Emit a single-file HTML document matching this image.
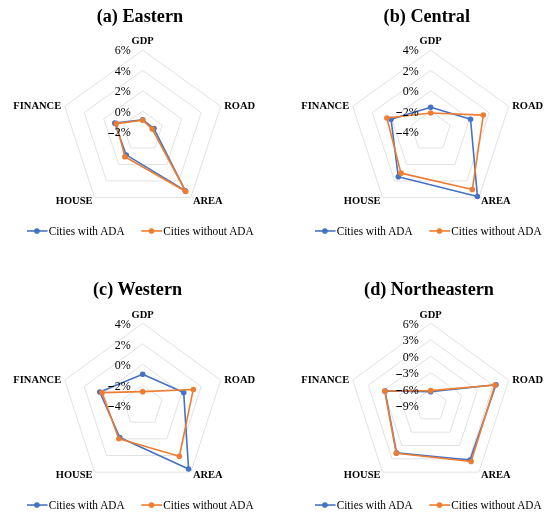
<!DOCTYPE html>
<html><head><meta charset="utf-8"><title>Radar charts</title>
<style>
html,body{margin:0;padding:0;background:#fff;}
svg{display:block;}
text{font-family:"Liberation Serif","Times New Roman",serif;fill:#000;}
.t{font-size:18.2px;font-weight:bold;text-anchor:middle;}
.ax{font-size:11px;font-weight:bold;}
.rl{font-size:13.4px;text-anchor:end;}
.lg{font-size:11.9px;}
</style></head><body>
<svg width="550" height="520" viewBox="0 0 550 520">
<rect width="550" height="520" fill="#fff"/>
<g>
<text class="t" x="139.9" y="22">(a) Eastern</text>
<polygon points="142.70,111.14 162.20,125.21 154.75,147.97 130.65,147.97 123.20,125.21" fill="none" stroke="#e2e2e2" stroke-width="1"/>
<polygon points="142.70,90.79 181.69,118.92 166.80,164.44 118.60,164.44 103.71,118.92" fill="none" stroke="#e2e2e2" stroke-width="1"/>
<polygon points="142.70,70.43 201.19,112.63 178.85,180.91 106.55,180.91 84.21,112.63" fill="none" stroke="#e2e2e2" stroke-width="1"/>
<polygon points="142.70,50.07 220.69,106.34 190.90,197.38 94.50,197.38 64.71,106.34" fill="none" stroke="#e2e2e2" stroke-width="1"/>
<text class="ax" text-anchor="middle" transform="translate(142.7,43.9) scale(0.955,1)">GDP</text>
<text class="ax" text-anchor="start" transform="translate(224.2,109.0) scale(0.955,1)">ROAD</text>
<text class="ax" text-anchor="start" transform="translate(192.9,203.8) scale(0.955,1)">AREA</text>
<text class="ax" text-anchor="end" transform="translate(92.5,203.8) scale(0.955,1)">HOUSE</text>
<text class="ax" text-anchor="end" transform="translate(61.2,109.0) scale(0.955,1)">FINANCE</text>
<polygon points="142.70,119.70 153.92,128.55 185.20,190.69 126.18,154.93 114.83,123.15" fill="none" stroke="#4472c4" stroke-width="1.6" stroke-linejoin="round"/>
<circle cx="142.70" cy="119.70" r="2.8" fill="#4472c4"/>
<circle cx="153.92" cy="128.55" r="2.8" fill="#4472c4"/>
<circle cx="185.20" cy="190.69" r="2.8" fill="#4472c4"/>
<circle cx="126.18" cy="154.93" r="2.8" fill="#4472c4"/>
<circle cx="114.83" cy="123.15" r="2.8" fill="#4472c4"/>
<polygon points="142.70,120.20 152.21,129.11 185.78,191.50 124.89,156.71 116.36,123.64" fill="none" stroke="#ed7d31" stroke-width="1.6" stroke-linejoin="round"/>
<circle cx="142.70" cy="120.20" r="2.8" fill="#ed7d31"/>
<circle cx="152.21" cy="129.11" r="2.8" fill="#ed7d31"/>
<circle cx="185.78" cy="191.50" r="2.8" fill="#ed7d31"/>
<circle cx="124.89" cy="156.71" r="2.8" fill="#ed7d31"/>
<circle cx="116.36" cy="123.64" r="2.8" fill="#ed7d31"/>
<text class="rl" transform="translate(130.9,54.2) scale(0.9,1)">6%</text>
<text class="rl" transform="translate(130.9,74.7) scale(0.9,1)">4%</text>
<text class="rl" transform="translate(130.9,95.2) scale(0.9,1)">2%</text>
<text class="rl" transform="translate(130.9,115.7) scale(0.9,1)">0%</text>
<text x="113.6" y="135.6" style="font-size:9.5px;font-weight:bold;text-anchor:end" stroke="#000" stroke-width="0.5">–</text>
<text class="rl" transform="translate(130.9,136.2) scale(0.9,1)">2%</text>
<line x1="26.999999999999986" y1="230.95" x2="47.499999999999986" y2="230.95" stroke="#4472c4" stroke-width="1.6"/><circle cx="36.899999999999984" cy="230.95" r="2.8" fill="#4472c4"/>
<text class="lg" text-anchor="start" transform="translate(48.7,234.8) scale(0.95,1)">Cities with ADA</text>
<line x1="141.25" y1="230.95" x2="162.1" y2="230.95" stroke="#ed7d31" stroke-width="1.6"/><circle cx="151.45" cy="230.95" r="2.8" fill="#ed7d31"/>
<text class="lg" text-anchor="start" transform="translate(163.3,234.8) scale(0.95,1)">Cities without ADA</text>
</g>
<g>
<text class="t" x="426.8" y="22">(b) Central</text>
<polygon points="430.70,111.14 450.20,125.21 442.75,147.97 418.65,147.97 411.20,125.21" fill="none" stroke="#e2e2e2" stroke-width="1"/>
<polygon points="430.70,90.79 469.69,118.92 454.80,164.44 406.60,164.44 391.71,118.92" fill="none" stroke="#e2e2e2" stroke-width="1"/>
<polygon points="430.70,70.43 489.19,112.63 466.85,180.91 394.55,180.91 372.21,112.63" fill="none" stroke="#e2e2e2" stroke-width="1"/>
<polygon points="430.70,50.07 508.69,106.34 478.90,197.38 382.50,197.38 352.71,106.34" fill="none" stroke="#e2e2e2" stroke-width="1"/>
<text class="ax" text-anchor="middle" transform="translate(430.7,43.9) scale(0.955,1)">GDP</text>
<text class="ax" text-anchor="start" transform="translate(512.2,109.0) scale(0.955,1)">ROAD</text>
<text class="ax" text-anchor="start" transform="translate(480.9,203.8) scale(0.955,1)">AREA</text>
<text class="ax" text-anchor="end" transform="translate(380.5,203.8) scale(0.955,1)">HOUSE</text>
<text class="ax" text-anchor="end" transform="translate(349.2,109.0) scale(0.955,1)">FINANCE</text>
<polygon points="430.70,107.30 470.55,119.25 477.43,196.52 398.31,176.78 391.04,119.31" fill="none" stroke="#4472c4" stroke-width="1.6" stroke-linejoin="round"/>
<circle cx="430.70" cy="107.30" r="2.8" fill="#4472c4"/>
<circle cx="470.55" cy="119.25" r="2.8" fill="#4472c4"/>
<circle cx="477.43" cy="196.52" r="2.8" fill="#4472c4"/>
<circle cx="398.31" cy="176.78" r="2.8" fill="#4472c4"/>
<circle cx="391.04" cy="119.31" r="2.8" fill="#4472c4"/>
<polygon points="430.70,112.95 483.29,115.11 472.32,189.48 400.96,173.14 386.86,117.95" fill="none" stroke="#ed7d31" stroke-width="1.6" stroke-linejoin="round"/>
<circle cx="430.70" cy="112.95" r="2.8" fill="#ed7d31"/>
<circle cx="483.29" cy="115.11" r="2.8" fill="#ed7d31"/>
<circle cx="472.32" cy="189.48" r="2.8" fill="#ed7d31"/>
<circle cx="400.96" cy="173.14" r="2.8" fill="#ed7d31"/>
<circle cx="386.86" cy="117.95" r="2.8" fill="#ed7d31"/>
<text class="rl" transform="translate(418.9,54.2) scale(0.9,1)">4%</text>
<text class="rl" transform="translate(418.9,74.7) scale(0.9,1)">2%</text>
<text class="rl" transform="translate(418.9,95.2) scale(0.9,1)">0%</text>
<text x="401.6" y="115.1" style="font-size:9.5px;font-weight:bold;text-anchor:end" stroke="#000" stroke-width="0.5">–</text>
<text class="rl" transform="translate(418.9,115.7) scale(0.9,1)">2%</text>
<text x="401.6" y="135.6" style="font-size:9.5px;font-weight:bold;text-anchor:end" stroke="#000" stroke-width="0.5">–</text>
<text class="rl" transform="translate(418.9,136.2) scale(0.9,1)">4%</text>
<line x1="315.0" y1="230.95" x2="335.5" y2="230.95" stroke="#4472c4" stroke-width="1.6"/><circle cx="324.9" cy="230.95" r="2.8" fill="#4472c4"/>
<text class="lg" text-anchor="start" transform="translate(336.7,234.8) scale(0.95,1)">Cities with ADA</text>
<line x1="429.25" y1="230.95" x2="450.1" y2="230.95" stroke="#ed7d31" stroke-width="1.6"/><circle cx="439.45" cy="230.95" r="2.8" fill="#ed7d31"/>
<text class="lg" text-anchor="start" transform="translate(451.3,234.8) scale(0.95,1)">Cities without ADA</text>
</g>
<g>
<text class="t" x="137.6" y="294.9">(c) Western</text>
<polygon points="142.70,384.97 162.20,399.19 154.75,422.20 130.65,422.20 123.20,399.19" fill="none" stroke="#e2e2e2" stroke-width="1"/>
<polygon points="142.70,364.39 181.69,392.83 166.80,438.85 118.60,438.85 103.71,392.83" fill="none" stroke="#e2e2e2" stroke-width="1"/>
<polygon points="142.70,343.80 201.19,386.47 178.85,455.50 106.55,455.50 84.21,386.47" fill="none" stroke="#e2e2e2" stroke-width="1"/>
<polygon points="142.70,323.22 220.69,380.11 190.90,472.15 94.50,472.15 64.71,380.11" fill="none" stroke="#e2e2e2" stroke-width="1"/>
<text class="ax" text-anchor="middle" transform="translate(142.7,317.6) scale(0.955,1)">GDP</text>
<text class="ax" text-anchor="start" transform="translate(224.2,382.7) scale(0.955,1)">ROAD</text>
<text class="ax" text-anchor="start" transform="translate(192.9,478.3) scale(0.955,1)">AREA</text>
<text class="ax" text-anchor="end" transform="translate(92.5,478.3) scale(0.955,1)">HOUSE</text>
<text class="ax" text-anchor="end" transform="translate(61.2,382.7) scale(0.955,1)">FINANCE</text>
<polygon points="142.70,374.20 183.69,392.58 188.55,469.00 119.78,437.45 99.81,391.96" fill="none" stroke="#4472c4" stroke-width="1.6" stroke-linejoin="round"/>
<circle cx="142.70" cy="374.20" r="2.8" fill="#4472c4"/>
<circle cx="183.69" cy="392.58" r="2.8" fill="#4472c4"/>
<circle cx="188.55" cy="469.00" r="2.8" fill="#4472c4"/>
<circle cx="119.78" cy="437.45" r="2.8" fill="#4472c4"/>
<circle cx="99.81" cy="391.96" r="2.8" fill="#4472c4"/>
<polygon points="142.70,391.65 193.30,389.46 179.32,456.30 118.84,438.75 101.90,392.64" fill="none" stroke="#ed7d31" stroke-width="1.6" stroke-linejoin="round"/>
<circle cx="142.70" cy="391.65" r="2.8" fill="#ed7d31"/>
<circle cx="193.30" cy="389.46" r="2.8" fill="#ed7d31"/>
<circle cx="179.32" cy="456.30" r="2.8" fill="#ed7d31"/>
<circle cx="118.84" cy="438.75" r="2.8" fill="#ed7d31"/>
<circle cx="101.90" cy="392.64" r="2.8" fill="#ed7d31"/>
<text class="rl" transform="translate(130.9,328.0) scale(0.9,1)">4%</text>
<text class="rl" transform="translate(130.9,348.5) scale(0.9,1)">2%</text>
<text class="rl" transform="translate(130.9,369.0) scale(0.9,1)">0%</text>
<text x="113.6" y="388.9" style="font-size:9.5px;font-weight:bold;text-anchor:end" stroke="#000" stroke-width="0.5">–</text>
<text class="rl" transform="translate(130.9,389.5) scale(0.9,1)">2%</text>
<text x="113.6" y="409.4" style="font-size:9.5px;font-weight:bold;text-anchor:end" stroke="#000" stroke-width="0.5">–</text>
<text class="rl" transform="translate(130.9,410.0) scale(0.9,1)">4%</text>
<line x1="26.999999999999986" y1="505.04999999999995" x2="47.499999999999986" y2="505.04999999999995" stroke="#4472c4" stroke-width="1.6"/><circle cx="36.899999999999984" cy="505.04999999999995" r="2.8" fill="#4472c4"/>
<text class="lg" text-anchor="start" transform="translate(48.7,508.8) scale(0.95,1)">Cities with ADA</text>
<line x1="141.25" y1="505.04999999999995" x2="162.1" y2="505.04999999999995" stroke="#ed7d31" stroke-width="1.6"/><circle cx="151.45" cy="505.04999999999995" r="2.8" fill="#ed7d31"/>
<text class="lg" text-anchor="start" transform="translate(163.3,508.8) scale(0.95,1)">Cities without ADA</text>
</g>
<g>
<text class="t" x="429" y="294.9">(d) Northeastern</text>
<polygon points="430.70,389.08 446.30,400.46 440.34,418.87 421.06,418.87 415.10,400.46" fill="none" stroke="#e2e2e2" stroke-width="1"/>
<polygon points="430.70,372.62 461.89,395.37 449.98,432.19 411.42,432.19 399.51,395.37" fill="none" stroke="#e2e2e2" stroke-width="1"/>
<polygon points="430.70,356.15 477.49,390.29 459.62,445.51 401.78,445.51 383.91,390.29" fill="none" stroke="#e2e2e2" stroke-width="1"/>
<polygon points="430.70,339.69 493.09,385.20 469.26,458.83 392.14,458.83 368.31,385.20" fill="none" stroke="#e2e2e2" stroke-width="1"/>
<polygon points="430.70,323.22 508.69,380.11 478.90,472.15 382.50,472.15 352.71,380.11" fill="none" stroke="#e2e2e2" stroke-width="1"/>
<text class="ax" text-anchor="middle" transform="translate(430.7,317.6) scale(0.955,1)">GDP</text>
<text class="ax" text-anchor="start" transform="translate(512.2,382.7) scale(0.955,1)">ROAD</text>
<text class="ax" text-anchor="start" transform="translate(480.9,478.3) scale(0.955,1)">AREA</text>
<text class="ax" text-anchor="end" transform="translate(380.5,478.3) scale(0.955,1)">HOUSE</text>
<text class="ax" text-anchor="end" transform="translate(349.2,382.7) scale(0.955,1)">FINANCE</text>
<polygon points="430.70,391.65 495.94,384.70 470.02,460.02 396.55,452.90 385.05,391.07" fill="none" stroke="#4472c4" stroke-width="1.6" stroke-linejoin="round"/>
<circle cx="430.70" cy="391.65" r="2.8" fill="#4472c4"/>
<circle cx="495.94" cy="384.70" r="2.8" fill="#4472c4"/>
<circle cx="470.02" cy="460.02" r="2.8" fill="#4472c4"/>
<circle cx="396.55" cy="452.90" r="2.8" fill="#4472c4"/>
<circle cx="385.05" cy="391.07" r="2.8" fill="#4472c4"/>
<polygon points="430.70,390.65 494.99,385.01 471.14,461.56 396.26,453.31 384.67,390.94" fill="none" stroke="#ed7d31" stroke-width="1.6" stroke-linejoin="round"/>
<circle cx="430.70" cy="390.65" r="2.8" fill="#ed7d31"/>
<circle cx="494.99" cy="385.01" r="2.8" fill="#ed7d31"/>
<circle cx="471.14" cy="461.56" r="2.8" fill="#ed7d31"/>
<circle cx="396.26" cy="453.31" r="2.8" fill="#ed7d31"/>
<circle cx="384.67" cy="390.94" r="2.8" fill="#ed7d31"/>
<text class="rl" transform="translate(418.9,328.0) scale(0.9,1)">6%</text>
<text class="rl" transform="translate(418.9,344.4) scale(0.9,1)">3%</text>
<text class="rl" transform="translate(418.9,360.8) scale(0.9,1)">0%</text>
<text x="401.6" y="376.6" style="font-size:9.5px;font-weight:bold;text-anchor:end" stroke="#000" stroke-width="0.5">–</text>
<text class="rl" transform="translate(418.9,377.2) scale(0.9,1)">3%</text>
<text x="401.6" y="393.0" style="font-size:9.5px;font-weight:bold;text-anchor:end" stroke="#000" stroke-width="0.5">–</text>
<text class="rl" transform="translate(418.9,393.6) scale(0.9,1)">6%</text>
<text x="401.6" y="409.4" style="font-size:9.5px;font-weight:bold;text-anchor:end" stroke="#000" stroke-width="0.5">–</text>
<text class="rl" transform="translate(418.9,410.0) scale(0.9,1)">9%</text>
<line x1="315.0" y1="505.04999999999995" x2="335.5" y2="505.04999999999995" stroke="#4472c4" stroke-width="1.6"/><circle cx="324.9" cy="505.04999999999995" r="2.8" fill="#4472c4"/>
<text class="lg" text-anchor="start" transform="translate(336.7,508.8) scale(0.95,1)">Cities with ADA</text>
<line x1="429.25" y1="505.04999999999995" x2="450.1" y2="505.04999999999995" stroke="#ed7d31" stroke-width="1.6"/><circle cx="439.45" cy="505.04999999999995" r="2.8" fill="#ed7d31"/>
<text class="lg" text-anchor="start" transform="translate(451.3,508.8) scale(0.95,1)">Cities without ADA</text>
</g>
</svg></body></html>
